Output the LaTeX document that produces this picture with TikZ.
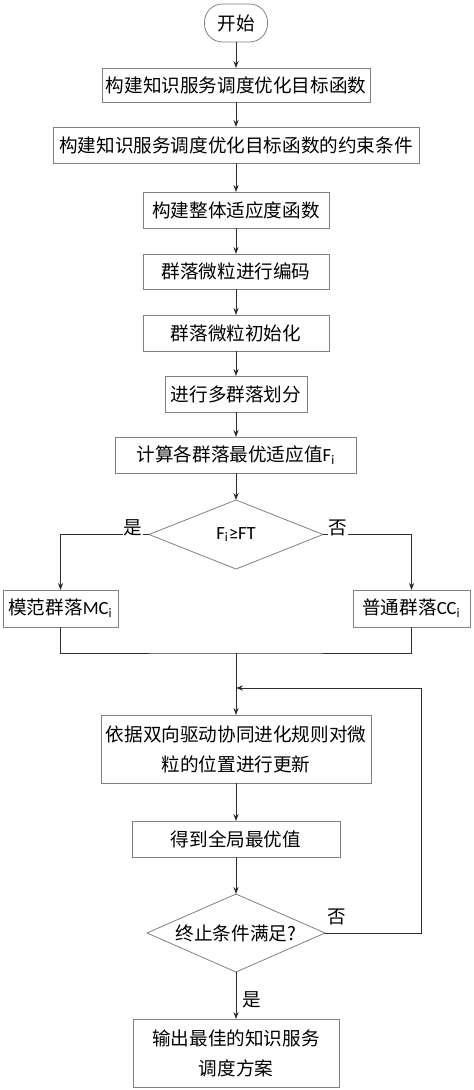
\documentclass[tikz,border=0pt]{standalone}
\usepackage{fontspec}
\setmainfont{Carlito}
\newfontfamily\cjk{Noto Sans CJK SC}
\usetikzlibrary{shapes.geometric, arrows.meta, positioning}
\definecolor{boxgray}{RGB}{128,128,128}
\definecolor{linegray}{RGB}{45,45,45}
\newcommand{\lsub}[1]{\textsubscript{#1}}
\newcommand{\lat}[1]{{\rmfamily #1}}

\begin{document}
\begin{tikzpicture}[
    node distance=13pt,
    font=\cjk\fontsize{9.3}{15}\selectfont,
    terminator/.style = {rectangle, draw=boxgray, rounded corners=9pt, minimum width=31.5pt, minimum height=19pt, inner sep=1pt, outer sep=0pt},
    process/.style = {rectangle, draw=boxgray, align=center, minimum height=18pt, inner sep=1pt, outer sep=0pt},
    decision/.style = {diamond, draw=boxgray, inner sep=0pt, outer sep=0pt},
    answer/.style = {inner sep=0.5pt},
    line/.style = {draw=linegray, line width=0.5pt},
    >={Stealth[length=3.5pt, width=2.6pt]}]

    \useasboundingbox (0,0) rectangle (237pt,-545pt);

    \node[terminator] (start) at (118pt,-11.5pt) {开始};
    \node[process, below=13pt of start, minimum width=134pt, minimum height=17pt] (obj) {构建知识服务调度优化目标函数};
    \node[process, below=12.5pt of obj, minimum width=183pt] (cons) {构建知识服务调度优化目标函数的约束条件};
    \node[process, below=14.5pt of cons, minimum width=93pt] (fit) {构建整体适应度函数};
    \node[process, below=13pt of fit, minimum width=93pt, minimum height=17.5pt] (code) {群落微粒进行编码};
    \node[process, below=13pt of code, minimum width=93pt] (init) {群落微粒初始化};
    \node[process, below=12.5pt of init, minimum width=71pt] (split) {进行多群落划分};
    \node[process, below=12.5pt of split, minimum width=120.5pt] (best) {计算各群落最优适应值\lat{F\lsub{i}}};
    \node[decision, below=13.5pt of best, minimum width=87pt, minimum height=34.5pt, aspect=2.52] (judge) {\lat{F\lsub{i}≥FT}};
    \node[process, minimum width=57.5pt, minimum height=18.5pt] (mc) at (30.25pt,-304.25pt) {模范群落\lat{MC\lsub{i}}};
    \node[process, minimum width=58.5pt, minimum height=18.5pt] (cc) at (205.75pt,-304.25pt) {普通群落\lat{CC\lsub{i}}};
    \coordinate (merge) at (118pt,-326.5pt);
    \node[process, below=73pt of judge, minimum width=135pt, minimum height=34pt] (update) {依据双向驱动协同进化规则对微\\粒的位置进行更新};
    \node[process, below=19pt of update, minimum width=104pt] (global) {得到全局最优值};
    \node[decision, below=18.5pt of global, minimum width=89pt, minimum height=39pt, aspect=2.28] (stop) {终止条件满足?};
    \node[process, below=23.5pt of stop, minimum width=103pt, minimum height=34pt] (output) {输出最佳的知识服务\\调度方案};
    \coordinate (loop) at (210.5pt,-344pt);
    \coordinate (back) at (118pt,-344pt);

    \draw[line, ->] (start) -- (obj);
    \draw[line, ->] (obj) -- (cons);
    \draw[line, ->] (cons) -- (fit);
    \draw[line, ->] (fit) -- (code);
    \draw[line, ->] (code) -- (init);
    \draw[line, ->] (init) -- (split);
    \draw[line, ->] (split) -- (best);
    \draw[line, ->] (best) -- (judge);
    \draw[line, ->] (judge.west) -| node[answer, pos=0.09, anchor=south, yshift=-1.5pt, fill=white] (yes1) {是} (mc.north);
    \draw[line, ->] (judge.east) -| node[answer, pos=0.085, anchor=south, yshift=-1.5pt, fill=white] (no1) {否} (cc.north);
    \draw[line] (mc.south) |- (merge) -| (cc.south);
    \draw[line, ->] (merge) -- (update);
    \draw[line, ->] (update) -- (global);
    \draw[line, ->] (global) -- (stop);
    \draw[line, ->] (stop) -- node[answer, pos=0.6, right=2.5pt] (yes2) {是} (output);
    \draw[line, ->] (stop.east) -| node[answer, pos=0.06, above=3.5pt] (no2) {否} (loop) -- (back);
\end{tikzpicture}
\end{document}
